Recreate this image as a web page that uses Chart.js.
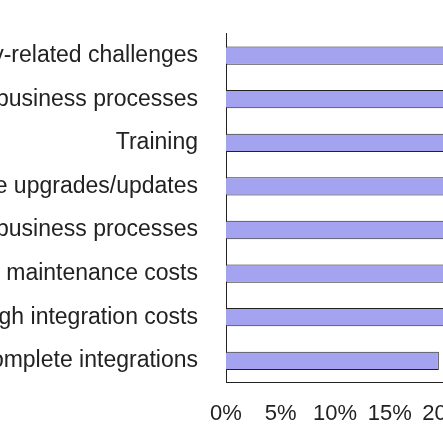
<!DOCTYPE html>
<html>
<head>
<meta charset="utf-8">
<script src="https://cdn.jsdelivr.net/npm/chart.js@4"></script>
<style>
  html, body { margin: 0; padding: 0; overflow: hidden; background: #fff; }
  #wrap { width: 443px; height: 443px; overflow: hidden; }
</style>
</head>
<body>
<div id="wrap"><canvas id="myChart" width="640" height="443"></canvas></div>
<script>
const categories = [
    "Security-related challenges",
    "Redesigning business processes",
    "Training",
    "Software upgrades/updates",
    "Reengineering business processes",
    "Ongoing maintenance costs",
    "High integration costs",
    "Incomplete integrations"
];
const shares = [30, 28, 27, 26, 25, 24, 23, 19.5];

const ctx = document.getElementById('myChart').getContext('2d');
const myChart = new Chart(ctx, {
    type: 'bar',
    data: {
        labels: categories,
        datasets: [{
            data: shares,
            backgroundColor: '#a3a3ef',
            borderColor: '#222',
            borderWidth: 1,
            categoryPercentage: 1,
            barPercentage: 0.42
        }]
    },
    options: {
        indexAxis: 'y',
        responsive: false,
        animation: false,
        layout: { padding: { top: -12, right: 0, bottom: 6 } },
        plugins: { legend: { display: false }, tooltip: { enabled: false } },
        scales: {
            x: {
                min: 0,
                max: 35,
                ticks: {
                    stepSize: 5,
                    callback: v => v + '%',
                    color: '#222',
                    font: { family: 'Liberation Sans', size: 22 },
                    padding: 10
                },
                grid: { display: false, drawTicks: true, tickLength: 8, tickColor: '#222' },
                border: { color: '#222' }
            },
            y: {
                afterFit: scale => { scale.width = 226; },
                ticks: {
                    color: '#222',
                    font: { family: 'Liberation Sans', size: 23 },
                    padding: 20
                },
                grid: { display: false },
                border: { color: '#222' }
            }
        }
    }
});
</script>
</body>
</html>
